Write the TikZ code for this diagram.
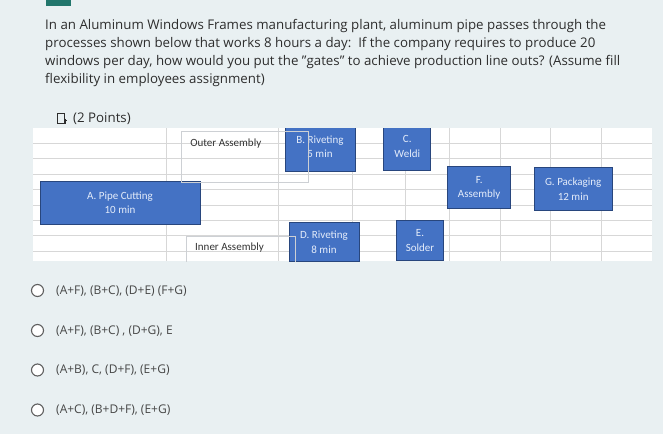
\documentclass[tikz,border=0pt]{standalone}
\usepackage{fontspec}
\setmainfont{Open Sans}
\newfontfamily\calib{Carlito}
\definecolor{bg}{RGB}{233,240,242}
\definecolor{teal}{RGB}{34,118,108}
\definecolor{qtext}{RGB}{45,45,45}
\definecolor{gridline}{RGB}{215,215,215}
\definecolor{boxblue}{RGB}{68,114,196}
\definecolor{boxedge}{RGB}{40,70,125}
\definecolor{boxtext}{RGB}{228,236,250}
\definecolor{grpline}{RGB}{205,208,212}
\definecolor{labeltext}{RGB}{50,50,50}
\definecolor{opttext}{RGB}{70,70,70}
\definecolor{radioedge}{RGB}{95,95,95}
\begin{document}
\begin{tikzpicture}[x=1pt,y=-1pt]
\tikzset{
 proc/.style={draw=boxedge, fill=boxblue, line width=1pt, text=boxtext, font=\calib\fontsize{11}{14.5}\selectfont, align=center, inner sep=0pt},
 grp/.style={draw=grpline, line width=0.7pt},
 grplabel/.style={text=labeltext, font=\calib\fontsize{11}{13}\selectfont, inner sep=0pt},
 qline/.style={anchor=base west, inner sep=0pt, text=qtext, font=\fontsize{13.3}{15}\selectfont},
 opt/.style={anchor=west, inner sep=0pt, text=opttext, font=\fontsize{12}{14}\selectfont},
 radio/.style={circle, draw=radioedge, fill=white, line width=1.1pt, minimum size=12pt, inner sep=0pt},
}
\useasboundingbox (0,0) rectangle (663,434);
\fill[bg] (0,0) rectangle (663,434);
\fill[teal] (46,0) rectangle (71,6);

% question text
\node[qline] (q1) at (45,29) {In an Aluminum Windows Frames manufacturing plant, aluminum pipe passes through the};
\node[qline] (q2) at (45,47) {processes shown below that works 8 hours a day:\ \ If the company requires to produce 20};
\node[qline] (q3) at (45,65) {windows per day, how would you put the \symbol{34}gates\symbol{34} to achieve production line outs? (Assume fill};
\node[qline] (q4) at (45,83) {flexibility in employees assignment)};

% points line
\draw[qtext, line width=0.7pt] (57,113) rectangle (64.5,123);
\draw[qtext, line width=0.6pt] (64.5,120) -- (66.5,120) (65.5,118.5) -- (65.5,123.5);
\node[anchor=west, inner sep=0pt, text=qtext, font=\fontsize{13.3}{15}\selectfont] (pts) at (73,118.3) {(2 Points)};

% chart
\begin{scope}
\clip (33,128) rectangle (652,261);
\fill[white] (33,128) rectangle (652,261);
\foreach \yy in {143,158.5,174,189.5,205,220,235.5,251}
  \draw[gridline, line width=0.7pt] (33,\yy) -- (652,\yy);
\foreach \xx in {166,278,352,405,449,500,550,601}
  \draw[gridline, line width=0.7pt] (\xx,128) -- (\xx,261);

\node[proc, minimum width=160pt, minimum height=43pt] (A) at (120,202.5) {A. Pipe Cutting\\10 min};
\node[proc, minimum width=70pt, minimum height=49pt] (B) at (320,146.5) {B. Riveting\\5 min};
\node[proc, minimum width=46.7pt, minimum height=47pt] (C) at (407.3,146.5) {C.\\Weldi};
\node[proc, minimum width=63pt, minimum height=42.3pt] (F) at (479.2,187.8) {F.\\Assembly};
\node[proc, minimum width=78.3pt, minimum height=43pt] (G) at (573.2,189.2) {G. Packaging\\12 min};
\node[proc, minimum width=70pt, minimum height=39pt] (D) at (324,242.2) {D. Riveting\\8 min};
\node[proc, minimum width=46.6pt, minimum height=40pt] (E) at (420,240.7) {E.\\Solder};

\draw[grp] (181.7,131.7) rectangle (308.3,182.3);
\draw[grp] (186.7,236.7) rectangle (295,270);
\end{scope}
\node[grplabel] (outer) at (225.8,143.3) {Outer Assembly};
\node[grplabel] (inner) at (229.5,247.7) {Inner Assembly};

% options
\node[radio] (r1) at (37.5,290.5) {};
\node[radio] (r2) at (37.5,330.5) {};
\node[radio] (r3) at (37.5,370) {};
\node[radio] (r4) at (37.5,410) {};
\node[opt] (o1) at (56,291) {(A+F), (B+C), (D+E) (F+G)};
\node[opt] (o2) at (56,331) {(A+F), (B+C) , (D+G), E};
\node[opt] (o3) at (56,370) {(A+B), C, (D+F), (E+G)};
\node[opt] (o4) at (56,410) {(A+C), (B+D+F), (E+G)};
\end{tikzpicture}
\end{document}
